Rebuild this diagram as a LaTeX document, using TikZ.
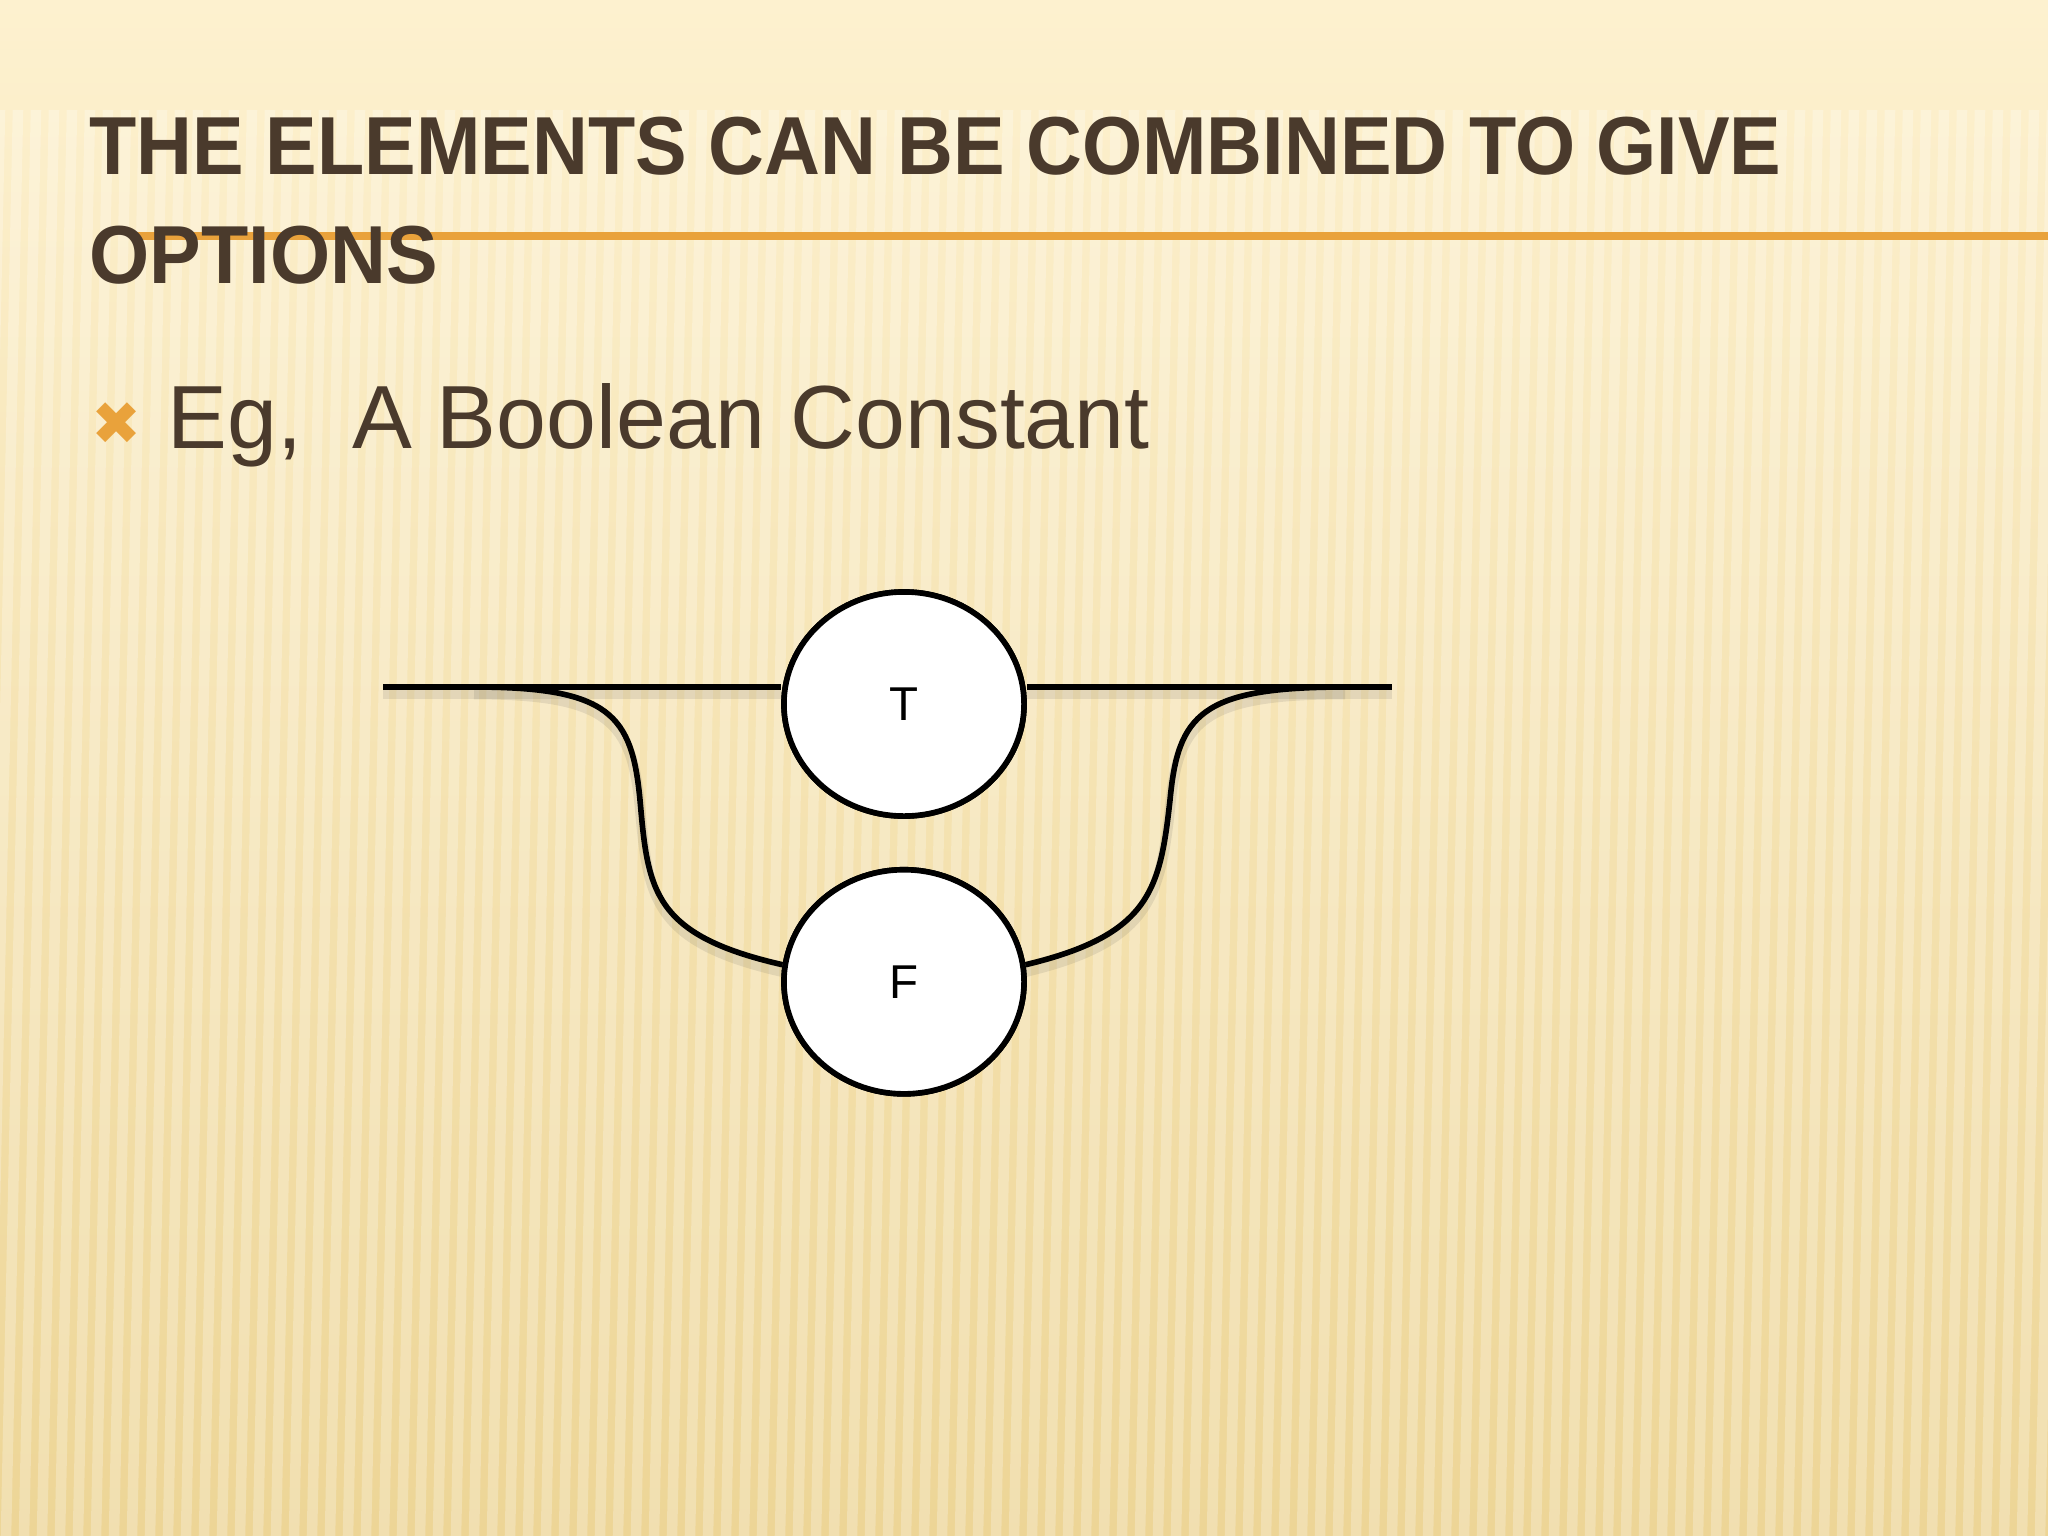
\documentclass[tikz,border=0pt]{standalone}
\usepackage{fontspec}
\setmainfont{Liberation Sans}
\newfontfamily\titlefont[FakeStretch=0.94]{Liberation Sans}
\newfontfamily\symbfont{DejaVu Sans}
\usepackage{tikz}
\usetikzlibrary{shapes.geometric, positioning}
\definecolor{slidebrown}{HTML}{4A3A2C}
\definecolor{slideorange}{HTML}{E9A23B}
\definecolor{bgtop}{HTML}{FDF1CF}
\definecolor{bgmid}{HTML}{F8E6B4}
\definecolor{bgbottom}{HTML}{EDD596}

\begin{document}
\begin{tikzpicture}[x=0.01cm, y=-0.01cm,
  heading/.style={anchor=base west, inner sep=0pt, text=slidebrown,
    font=\titlefont\bfseries\fontsize{23.4}{28}\selectfont},
  %
  bullet/.style={anchor=base west, inner sep=0pt, text=slidebrown,
    font=\fontsize{25.5}{30}\selectfont},
  %
  choice/.style={draw=black, line width=1.6pt, ellipse, fill=white,
    minimum width=2.4cm, minimum height=2.24cm, inner sep=0pt,
    font=\fontsize{13.5}{16}\selectfont},
  %
  track/.style={draw=black, line width=1.6pt,
    preaction={draw=black!70, opacity=0.12, line width=3pt,
      transform canvas={yshift=-2pt}}},
  %
  stripe/.style={draw=white, opacity=0.25, line width=3pt}
  ]

  % slide background
  \useasboundingbox (0,0) rectangle (2048,1536);
  \shade [top color=bgtop, middle color=bgmid, bottom color=bgbottom]
    (0,0) rectangle (2048,1536);
  \foreach \sx in {0,18,...,2100}
    \draw [stripe] (\sx,110) -- (\sx-30,1536);

  % title
  \draw [slideorange, line width=2.4pt] (130,236) -- (2048,236);
  \node [heading] (title1) at (89,174) {THE ELEMENTS CAN BE COMBINED TO GIVE};
  \node [heading] (title2) at (89,283) {OPTIONS};

  % bullet
  \node [anchor=center, inner sep=0pt, text=slideorange,
    font=\symbfont\fontsize{17}{20}\selectfont] (mark) at (117,424) {✖};
  \node [bullet] (item) at (167,448) {Eg,\ \ A Boolean Constant};

  % syntax diagram
  \node [choice] (T) at (904,704) {T};
  \node [choice, below=0.48cm of T] (F) {F};

  \coordinate (rail west) at (383,687);
  \coordinate (rail east) at (1392,687);
  \coordinate (fork) at (474,687);
  \coordinate (join) at (1345,687);

  \begin{scope}
    \draw [track] (rail west) -- (T.west |- rail west);
    \draw [track] (T.east |- rail east) -- (rail east);
    \draw [track] (fork) .. controls (610,687) and (632,715) .. (640,800)
      .. controls (648,890) and (652,935) .. (F.172);
    \draw [track] (F.8) .. controls (1150,935) and (1160,890) .. (1170,800)
      .. controls (1178,715) and (1200,687) .. (join);
  \end{scope}

  % redraw choices on top of the rails
  \node [choice] at (T) {T};
  \node [choice] at (F) {F};

\end{tikzpicture}
\end{document}
